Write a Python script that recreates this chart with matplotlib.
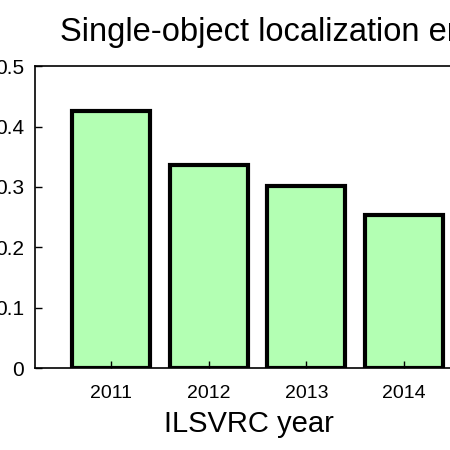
import matplotlib
matplotlib.use("Agg")
import matplotlib.pyplot as plt

years = ["2011", "2012", "2013", "2014"]
errors = [0.425, 0.336, 0.301, 0.253]
yticks = [0, 0.1, 0.2, 0.3, 0.4, 0.5]

plt.rcParams['font.family'] = ['Liberation Sans', 'DejaVu Sans']
fig = plt.figure(figsize=(4.5, 4.5), dpi=100)
ax = fig.add_axes([0.078, 0.182, 0.95, 0.671])
x = list(range(1, len(years) + 1))
ax.bar(x, errors, width=0.8, color="#b3ffb3", edgecolor="black", linewidth=3)
ax.set_xlim(0.22, 4.6)
ax.set_ylim(0, 0.5)
ax.set_xticks(x)
ax.set_xticklabels(years, fontsize=14)
ax.set_yticks(yticks)
ax.set_yticklabels([f"{v:g}" for v in yticks], fontsize=15)
ax.tick_params(direction="in", length=5, width=1)
ax.tick_params(axis="x", pad=12)
ax.tick_params(axis="y", pad=8)
for s in ax.spines.values():
    s.set_linewidth(1.2)
ax.set_xlabel("ILSVRC year", fontsize=21, labelpad=6)
fig.text(60/450, 1 - 32/450, "Single-object localization error", fontsize=23.5, ha="left", va="center")
fig.savefig("out.png", dpi=100)
